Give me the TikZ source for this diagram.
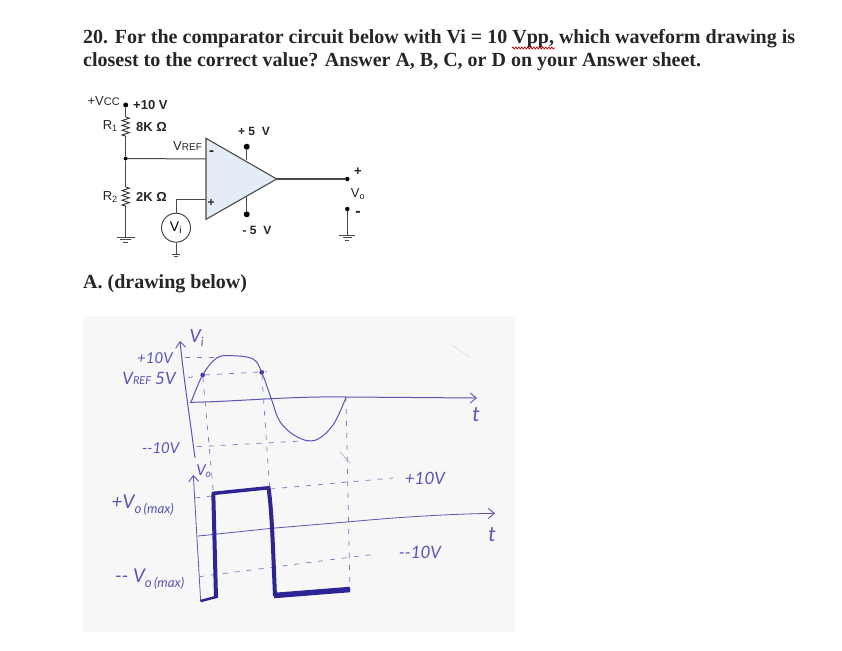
\documentclass[tikz,border=0pt]{standalone}
\usepackage{fontspec}
\setmainfont{Liberation Serif}
\newfontfamily\csans{Liberation Sans}
\newfontfamily\hand{Lato}
\usetikzlibrary{decorations.pathmorphing,arrows.meta}
\definecolor{ink}{HTML}{5A55B4}
\definecolor{inkdark}{HTML}{2E2496}
\definecolor{wire}{HTML}{4A4A4A}
\definecolor{opfill}{HTML}{E4ECF7}
\definecolor{paper}{HTML}{F6F7F6}
\tikzset{
  x=1pt,y=-1pt,
  head/.style={font=\bfseries\fontsize{20}{24}\selectfont,anchor=base west,inner sep=0,text=black!85},
  clabel/.style={font=\csans\fontsize{13}{15}\selectfont,inner sep=0,text=black!85},
  cbold/.style={font=\csans\bfseries\fontsize{13}{15}\selectfont,inner sep=0,text=black!85},
  wireline/.style={draw=wire,line width=1pt},
  res/.style={draw=black!80,line width=.9pt,decorate,decoration={zigzag,segment length=4.8pt,amplitude=3.6pt}},
  term/.style={circle,fill=black,inner sep=0,minimum size=#1},
  hw/.style={font=\hand\itshape\fontsize{#1}{#1}\selectfont,text=ink,inner sep=0},
  pen/.style={draw=ink,line width=1pt,line join=round,line cap=round},
  dashpen/.style={draw=ink!80,line width=.7pt,dash pattern=on 5pt off 7pt},
  heavy/.style={draw=inkdark,line width=#1,line join=round},
  openarrow/.style={-{Straight Barb[length=6pt,width=10pt,line width=.9pt]}},
}
\newcommand{\groundat}[2]{% name, half-width
  \draw[wireline] (#1) ++(-#2,0) -- ++(#2*2,0);
  \draw[wireline] (#1) ++(-#2*.6,2.5) -- ++(#2*1.2,0);
  \draw[wireline] (#1) ++(-#2*.25,5) -- ++(#2*.5,0);
}
\begin{document}
\begin{tikzpicture}
\useasboundingbox (0,0) rectangle (842,650);
\fill[white] (0,0) rectangle (842,650);

% question text
\node[head] (q1) at (83,43.5) {20. For the comparator circuit below with Vi = 10 Vpp, which waveform drawing is};
\node[head] (q2) at (83,66.5) {closest to the correct value? Answer A, B, C, or D on your Answer sheet.};
\node[head] (qa) at (83,288) {A. (drawing below)};
\draw[red!75!black,line width=.7pt,decorate,decoration={zigzag,segment length=3pt,amplitude=1pt}] (512,48) -- (555,48);

% circuit
\coordinate (tl) at (206,138.3);
\coordinate (bl) at (206,219.3);
\coordinate (tip) at (276.7,179);
\draw[draw=wire,fill=opfill,line width=1.1pt] (tl) -- (bl) -- (tip) -- cycle;

\node[term=5pt] (vcc) at (125.7,105) {};
\coordinate (r1a) at (125.7,117);
\coordinate (r1b) at (125.7,137);
\node[term=4pt] (jn) at (125.7,158.5) {};
\coordinate (r2a) at (125.7,187);
\coordinate (r2b) at (125.7,207);
\coordinate (g1) at (125.7,237);
\draw[wireline] (vcc) -- (r1a);
\draw[res] (r1a) -- (r1b);
\draw[wireline] (r1b) -- (jn);
\draw[wireline] (jn) -- (r2a);
\draw[res] (r2a) -- (r2b);
\draw[wireline] (r2b) -- (g1);
\groundat{g1}{9}

\coordinate (minus) at (206,159);
\coordinate (plus) at (206,199);
\draw[wireline] (jn) -- (minus);
\node[circle,draw=wire,line width=1pt,fill=white,minimum size=29pt,inner sep=0,font=\csans\fontsize{14}{15}\selectfont] (vi) at (176,227.7) {V\textsubscript{i}};
\draw[wireline] (vi.north) |- (plus);
\coordinate (g2) at (176,254);
\draw[wireline] (vi.south) -- (g2);
\draw[wireline] (g2) ++(-4,0) -- ++(8,0);
\draw[wireline] (g2) ++(-2,2) -- ++(4,0);

\node[term=6pt] (vp) at (246.7,146.7) {};
\node[term=6pt] (vm) at (246.7,214.3) {};
\coordinate (vpin) at (246.7,160);
\coordinate (vmin) at (246.7,197);
\draw[wireline] (vp) -- (vpin);
\draw[wireline] (vm) -- (vmin);

\node[term=4.5pt] (out) at (347.3,179) {};
\draw[wireline,line width=1.2pt] (tip) -- (out);
\node[term=4.5pt] (outb) at (347.3,209) {};
\coordinate (g3) at (347.3,235);
\draw[wireline] (outb) -- (g3);
\groundat{g3}{8}

\node[clabel,anchor=east] (lvcc) at (120,101) {+V{\fontsize{11}{11}\selectfont CC}};
\node[cbold,anchor=west] (l10) at (133,105) {+10 V};
\node[clabel,anchor=east] (lr1) at (118,126) {R\textsubscript{1}};
\node[cbold,anchor=west] (l8k) at (136,127) {8K Ω};
\node[clabel,anchor=east] (lr2) at (118,197) {R\textsubscript{2}};
\node[cbold,anchor=west] (l2k) at (136,197) {2K Ω};
\node[clabel,anchor=west] (lvref) at (173,146) {V{\fontsize{10}{10}\selectfont REF}};
\node[cbold,font=\csans\bfseries\fontsize{12}{14}\selectfont] (lp5) at (254,131) {+ 5~~V};
\node[cbold,font=\csans\bfseries\fontsize{12}{14}\selectfont] (lm5) at (257,230) {- 5~~V};
\node[cbold,font=\csans\bfseries\fontsize{15}{15}\selectfont] (lminus) at (211.5,153.5) {-};
\node[cbold,font=\csans\bfseries\fontsize{12}{14}\selectfont] (lplus) at (211,203) {+};
\node[cbold] (lop) at (358,172) {+};
\node[clabel] (lvo) at (358,194) {V\textsubscript{o}};
\node[cbold,font=\csans\bfseries\fontsize{16}{16}\selectfont] (lom) at (358,214) {-};

% photo panel
\fill[paper] (83,316) rectangle (515,632);
\draw[black!25,line width=.8pt] (340,452) -- (350,463);
\draw[black!12,line width=.8pt] (452,345) -- (470,357);

% upper graph
\coordinate (a1b) at (195,457.7);
\coordinate (a1t) at (180,341);
\draw[pen,openarrow] (a1b) .. controls (190,420) and (184,380) .. (a1t);
\draw[pen,openarrow] (190,402.3) .. controls (230,402) and (290,396) .. (346,397) -- (477,398);
\draw[dashpen] (185,357.7) -- (216.7,357.7);
\node[circle,fill=inkdark,inner sep=0,minimum size=4.5pt] (d1) at (202.7,375) {};
\node[circle,fill=inkdark,inner sep=0,minimum size=4.5pt] (d2) at (261.7,372.3) {};
\draw[dashpen] (188,377.7) -- (d1);
\draw[dashpen] (d1) -- (266.7,371.7);
\draw[dashpen] (196.7,446.7) -- (315,440.3);
\draw[dashpen] (d1) -- (213.3,492);
\draw[dashpen] (d2) -- (269.5,486);
\draw[dashpen] (346,397) -- (350,590);
\draw[pen] plot[smooth,tension=.6] coordinates {(191,402.3) (202.7,375) (216.7,358) (231.7,355.7) (253,359) (261.7,372.3) (271.7,400) (280,421.7) (296.7,436.7) (315,440.3) (333,425) (346,397.3)};

% lower graph
\draw[pen,openarrow,line width=.8pt] (200.7,601.7) -- (193.3,475);
\draw[pen,openarrow,line width=.8pt] (198.3,536) -- (271.7,528.3) -- (350,521.7) .. controls (400,517) and (450,514) .. (495,513.3);
\draw[dashpen] (195,498) -- (212,496);
\draw[dashpen] (270,489) -- (393,478);
\draw[dashpen] (199,576.7) -- (346.7,557.7) -- (376.7,554);
\draw[heavy=2.5pt] (200.7,601) -- (216,597);
\draw[heavy=4pt] (216,598) -- (213.3,493.3);
\draw[heavy=3.5pt] (212,493.5) -- (269,487.7);
\draw[heavy=4pt] (268.3,486.5) .. controls (272,510) and (273,550) .. (275,596);
\draw[heavy=5.5pt] (274,595.5) -- (350,589.5);

% handwritten labels
\node[hw=18] (hvi) at (197,338) {V\textsubscript{i}};
\node[hw=15] (h10) at (155,358) {+10V};
\node[hw=17] (href) at (149,378) {V{\fontsize{11}{11}\selectfont REF} 5V};
\node[hw=15] (hm10) at (160.7,448) {--10V};
\node[hw=15] (hvo) at (204,471) {V\textsubscript{o}};
\node[hw=19] (hvop) at (143,505) {+V\textsubscript{o\,(max)}};
\node[hw=19] (hvom) at (150,579) {-- V\textsubscript{o\,(max)}};
\node[hw=17] (hr10) at (425,478) {+10V};
\node[hw=17] (hrm10) at (420,552) {--10V};
\node[hw=21] (ht1) at (476,415) {t};
\node[hw=21] (ht2) at (492,535) {t};
\end{tikzpicture}
\end{document}
